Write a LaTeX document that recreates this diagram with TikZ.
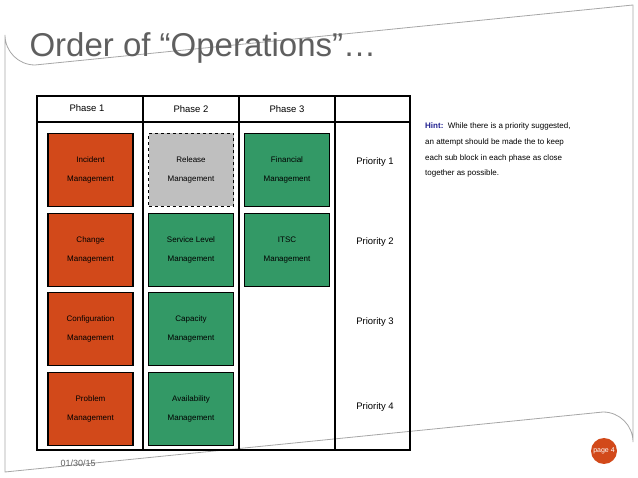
\documentclass[tikz,border=0pt]{standalone}
\usepackage{fontspec}
\setmainfont{Liberation Sans}
\usetikzlibrary{positioning}
\definecolor{incOrange}{HTML}{D2491A}
\definecolor{svcGreen}{HTML}{339966}
\definecolor{relGrey}{HTML}{BFBFBF}
\definecolor{titleGrey}{HTML}{5F5F5F}
\definecolor{hintBlue}{HTML}{1F1F8F}
\tikzset{
    block/.style={rectangle, draw=black, line width=1.2pt, minimum width=85pt, minimum height=73pt,
        align=center, font=\fontsize{8}{19}\selectfont, inner sep=0pt},
    proc/.style={block, fill=incOrange},
    svc/.style={block, fill=svcGreen},
    rel/.style={block, fill=relGrey, dashed},
    prio/.style={font=\fontsize{9.5}{11}\selectfont},
    head/.style={font=\fontsize{9.5}{11}\selectfont},
}
\begin{document}
\begin{tikzpicture}[x=1pt, y=-1pt]
    \useasboundingbox (0,0) rectangle (638,478);

    % slide frame
    \draw[gray!70, line width=0.8pt] (5,472) -- (5,35) arc[start angle=180, end angle=90, radius=30]
        -- (633,5) -- (633,442) arc[start angle=0, end angle=-90, radius=30] -- cycle;
    \node[anchor=base west, text=titleGrey, font=\fontsize{33}{36}\selectfont] (title) at (26,57) {Order of “Operations”…};

    % table grid
    \draw[line width=1.2pt] (37,96) rectangle (410,450);
    \draw[line width=1.2pt] (37,122) -- (410,122);
    \foreach \x in {143,239,335}
        \draw[line width=1.2pt] (\x,96) -- (\x,450);

    \node[head] (P1) at (87,108)  {Phase 1};
    \node[head] (P2) at (191,109) {Phase 2};
    \node[head] (P3) at (287,109) {Phase 3};

    % blocks
    \node[proc] (B11) at (90.5,170) {Incident\\Management};
    \node[proc] (B12) at (90.5,250) {Change\\Management};
    \node[proc] (B13) at (90.5,329) {Configuration\\Management};
    \node[proc] (B14) at (90.5,409) {Problem\\Management};

    \node[rel]  (B21) at (191,170) {Release\\Management};
    \node[svc]  (B22) at (191,250) {Service Level\\Management};
    \node[svc]  (B23) at (191,329) {Capacity\\Management};
    \node[svc]  (B24) at (191,409) {Availability\\Management};

    \node[svc]  (B31) at (287,170) {Financial\\Management};
    \node[svc]  (B32) at (287,250) {ITSC\\Management};

    \node[prio] (R1) at (375,162) {Priority 1};
    \node[prio] (R2) at (375,242) {Priority 2};
    \node[prio] (R3) at (375,322) {Priority 3};
    \node[prio] (R4) at (375,407) {Priority 4};

    % hint
    \node[anchor=north west, align=left, inner sep=0pt, font=\fontsize{8}{15.6}\selectfont] (hint) at (425,123)
        {\textcolor{hintBlue}{\textbf{Hint:}}\ \ While there is a priority suggested,\\
         an attempt should be made the to keep\\
         each sub block in each phase as close\\
         together as possible.};

    % footer
    \node[anchor=west, text=titleGrey, font=\fontsize{9}{11}\selectfont] (date) at (57,463) {01/30/15};
    \node[circle, fill=incOrange, text=white, minimum size=26pt, inner sep=0pt,
        font=\fontsize{7}{8}\selectfont] (page) at (604,451) {page 4};
\end{tikzpicture}
\end{document}
